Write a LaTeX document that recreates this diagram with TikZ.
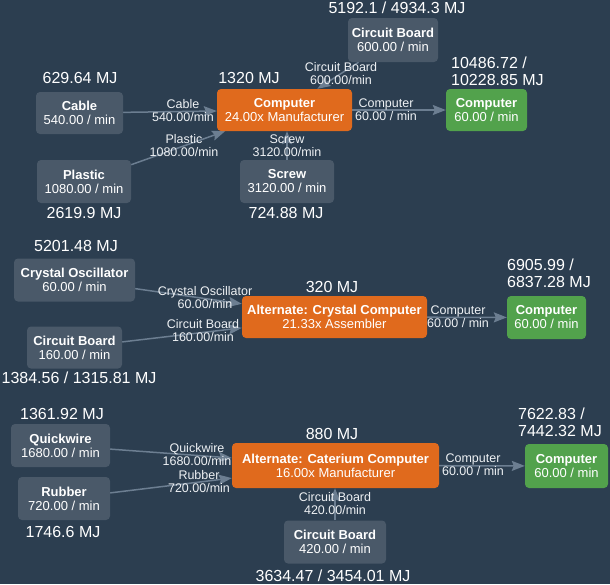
\documentclass[tikz,border=0pt]{standalone}
\usepackage{fontspec}
\setmainfont{Liberation Sans}
\usetikzlibrary{arrows.meta}
\definecolor{bgc}{HTML}{2C3E50}
\definecolor{grayn}{HTML}{4A5969}
\definecolor{orangen}{HTML}{E06A1D}
\definecolor{greenn}{HTML}{52A24C}
\definecolor{edgec}{HTML}{6C7E91}
\definecolor{labc}{HTML}{EEF1F4}
\pgfdeclarelayer{back}
\pgfdeclarelayer{edges}
\pgfsetlayers{back,edges,main}
\tikzset{
  box/.style={rectangle, rounded corners=4pt, inner sep=0pt, align=center, text=white, font=\fontsize{13}{14}\selectfont},
  srcbox/.style={box, fill=grayn},
  recbox/.style={box, fill=orangen},
  sinkbox/.style={box, fill=greenn},
  mj/.style={text=white, font=\fontsize{16}{17}\selectfont, inner sep=0pt, align=center},
  mjl/.style={text=white, font=\fontsize{16}{17}\selectfont, inner sep=0pt, align=left, anchor=west},
  elab/.style={text=labc, font=\fontsize{12.5}{13}\selectfont, align=center, inner sep=0pt},
  flow/.style={draw=edgec, line width=1.5pt, -{Stealth[length=13pt,width=10pt,inset=2pt]}},
}
\begin{document}
\begin{tikzpicture}[x=1pt,y=-1pt]
\begin{pgfonlayer}{back}
\fill[bgc] (0,0) rectangle (610,584);
\end{pgfonlayer}
\useasboundingbox (0,0) rectangle (610,584);

% ---------- top group ----------
\node[srcbox, minimum width=90pt, minimum height=44pt] (cb1) at (393,40) {\textbf{Circuit Board}\\600.00 / min};
\node[srcbox, minimum width=87pt, minimum height=42pt] (cable) at (79.5,113) {\textbf{Cable}\\540.00 / min};
\node[recbox, minimum width=135pt, minimum height=42pt] (comp1) at (284.5,110) {\textbf{Computer}\\24.00x Manufacturer};
\node[sinkbox, minimum width=81pt, minimum height=42pt] (green1) at (486.5,110) {\textbf{Computer}\\60.00 / min};
\node[srcbox, minimum width=94pt, minimum height=43pt] (plastic) at (84,181.5) {\textbf{Plastic}\\1080.00 / min};
\node[srcbox, minimum width=94pt, minimum height=43pt] (screw) at (287,181.5) {\textbf{Screw}\\3120.00 / min};

\node[mj] (mjcb1) at (397,8) {5192.1 / 4934.3 MJ};
\node[mj] (mjcable) at (80,78) {629.64 MJ};
\node[mj] (mjcomp1) at (249,78) {1320 MJ};
\node[mjl] (mjgreen1) at (451,71.5) {10486.72 /\\10228.85 MJ};
\node[mj] (mjplastic) at (84,213) {2619.9 MJ};
\node[mj] (mjscrew) at (286,213) {724.88 MJ};

\begin{pgfonlayer}{edges}
\draw[flow] (cable) -- (comp1);
\draw[flow] (plastic) -- (comp1);
\draw[flow] (screw.north) -- (screw.north |- comp1.south);
\draw[flow] (cb1) -- (comp1);
\draw[flow] (comp1) -- (green1);
\node[elab] (l1) at (183,111) {Cable\\540.00/min};
\node[elab] (l2) at (184,146) {Plastic\\1080.00/min};
\node[elab] (l3) at (287,146) {Screw\\3120.00/min};
\node[elab] (l4) at (341,74) {Circuit Board\\600.00/min};
\node[elab] (l5) at (386,110) {Computer\\60.00 / min};
\end{pgfonlayer}

% ---------- middle group ----------
\node[srcbox, minimum width=121pt, minimum height=43pt] (co) at (74.5,280) {\textbf{Crystal Oscillator}\\60.00 / min};
\node[srcbox, minimum width=95pt, minimum height=42pt] (cb2) at (74.5,347.5) {\textbf{Circuit Board}\\160.00 / min};
\node[recbox, minimum width=185pt, minimum height=42pt] (comp2) at (334.5,317) {\textbf{Alternate: Crystal Computer}\\21.33x Assembler};
\node[sinkbox, minimum width=79pt, minimum height=43pt] (green2) at (546.5,317.5) {\textbf{Computer}\\60.00 / min};

\node[mj] (mjco) at (76,246) {5201.48 MJ};
\node[mj] (mjcb2) at (79,378) {1384.56 / 1315.81 MJ};
\node[mj] (mjcomp2) at (332,287) {320 MJ};
\node[mjl] (mjgreen2) at (507,273.5) {6905.99 /\\6837.28 MJ};

\begin{pgfonlayer}{edges}
\draw[flow] (co) -- (comp2);
\draw[flow] (cb2) -- (comp2);
\draw[flow] (comp2) -- (green2);
\node[elab] (l6) at (205,297.5) {Crystal Oscillator\\60.00/min};
\node[elab] (l7) at (203,330.5) {Circuit Board\\160.00/min};
\node[elab] (l8) at (458,317) {Computer\\60.00 / min};
\end{pgfonlayer}

% ---------- bottom group ----------
\node[srcbox, minimum width=99pt, minimum height=43pt] (qw) at (60.5,445.5) {\textbf{Quickwire}\\1680.00 / min};
\node[srcbox, minimum width=92pt, minimum height=43pt] (rub) at (64,498.5) {\textbf{Rubber}\\720.00 / min};
\node[recbox, minimum width=207pt, minimum height=45pt] (comp3) at (335.5,465.5) {\textbf{Alternate: Caterium Computer}\\16.00x Manufacturer};
\node[srcbox, minimum width=102pt, minimum height=43pt] (cb3) at (335,542) {\textbf{Circuit Board}\\420.00 / min};
\node[sinkbox, minimum width=83pt, minimum height=44pt] (green3) at (566.5,466) {\textbf{Computer}\\60.00 / min};

\node[mj] (mjqw) at (62,414) {1361.92 MJ};
\node[mj] (mjrub) at (63,532) {1746.6 MJ};
\node[mj] (mjcomp3) at (332,434) {880 MJ};
\node[mj] (mjcb3) at (333,576) {3634.47 / 3454.01 MJ};
\node[mjl] (mjgreen3) at (518,422.5) {7622.83 /\\7442.32 MJ};

\begin{pgfonlayer}{edges}
\draw[flow] (qw) -- (comp3);
\draw[flow] (rub) -- (comp3);
\draw[flow] (cb3.north) -- (cb3.north |- comp3.south);
\draw[flow] (comp3) -- (green3);
\node[elab] (l9) at (197,454.5) {Quickwire\\1680.00/min};
\node[elab] (l10) at (199,481.5) {Rubber\\720.00/min};
\node[elab] (l11) at (335,503.5) {Circuit Board\\420.00/min};
\node[elab] (l12) at (473,465) {Computer\\60.00 / min};
\end{pgfonlayer}
\end{tikzpicture}
\end{document}
